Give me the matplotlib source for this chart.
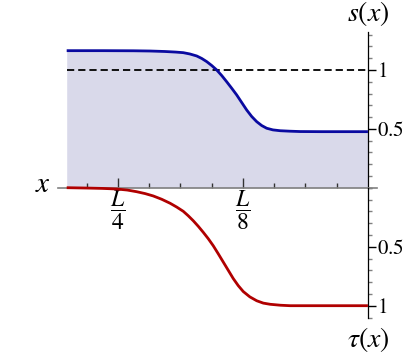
import matplotlib
matplotlib.use("Agg")
import matplotlib.pyplot as plt
from matplotlib.ticker import MultipleLocator, FixedLocator

plt.rcParams["mathtext.fontset"] = "stix"
plt.rcParams["font.family"] = ["Liberation Serif", "DejaVu Serif"]

W, H = 407, 356

# s(x) (x in tick units, ticks at integers)
s_x = [0.36, 1.5, 2.5, 3.03, 3.5, 3.85, 4.09, 4.3, 4.52, 4.68, 4.84, 5.0,
       5.16, 5.32, 5.48, 5.64, 5.80, 5.96, 6.12, 6.28, 6.44, 6.60, 6.76,
       6.96, 7.19, 7.5, 7.83, 8.5, 10.0]
s_y = [1.164, 1.164, 1.163, 1.161, 1.157, 1.152, 1.147, 1.136, 1.119, 1.098,
       1.071, 1.038, 1.0, 0.953, 0.90, 0.845, 0.788, 0.724, 0.66, 0.605,
       0.561, 0.528, 0.505, 0.491, 0.484, 0.480, 0.477, 0.476, 0.476]

# tau(x), plotted downward
t_x = [0.36, 1.0, 1.5, 1.96, 2.3, 2.60, 2.87, 3.13, 3.4, 3.67, 3.88, 4.09,
       4.25, 4.41, 4.57, 4.73, 4.89, 5.05, 5.21, 5.37, 5.53, 5.69, 5.85,
       6.01, 6.22, 6.44, 6.65, 6.87, 7.2, 7.51, 8.5, 10.0]
t_y = [0.0, 0.003, 0.006, 0.011, 0.02, 0.034, 0.05, 0.07, 0.098, 0.132,
       0.164, 0.20, 0.238, 0.28, 0.327, 0.378, 0.432, 0.492, 0.56, 0.63,
       0.70, 0.77, 0.83, 0.88, 0.925, 0.958, 0.978, 0.988, 0.996, 1.0,
       1.0, 1.0]

ref_level = 1.0
x_major = [2, 6]
x_major_labels = [r"$\dfrac{L}{4}$", r"$\dfrac{L}{8}$"]
x_minor = [1, 3, 4, 5, 7, 8, 9]
y_major = [0.5, 1]
y_major_labels = [r"$0.5$", r"$1$"]

BLUE = "#0a0aa0"
RED = "#b00000"
FILL = "#d9d9ea"
GRAY = "#808080"

fig = plt.figure(figsize=(W / 100, H / 100), dpi=100)

def px_box(left, right, top, bottom):
    return [left / W, 1 - bottom / H, (right - left) / W, (bottom - top) / H]

xlim = (0.0816, 10.29)
ax_top = fig.add_axes(px_box(58, 377, 32.3, 187.7))
ax_bot = fig.add_axes(px_box(58, 377, 187.7, 317.5))

for ax in (ax_top, ax_bot):
    ax.set_xlim(*xlim)
    ax.patch.set_alpha(0)
    ax.spines["left"].set_visible(False)
    ax.spines["right"].set_position(("data", 10))
    ax.spines["right"].set_linewidth(0.9)
    ax.yaxis.tick_right()
    ax.yaxis.set_major_locator(FixedLocator(y_major))
    ax.yaxis.set_ticklabels(y_major_labels)
    ax.yaxis.set_minor_locator(MultipleLocator(0.1))
    ax.tick_params(axis="y", which="major", direction="out", length=6,
                   width=1.0, color="black", labelsize=15, pad=0.5)
    ax.tick_params(axis="y", which="minor", direction="out", length=3,
                   width=1.0, color=GRAY)

ax_top.set_ylim(0, 1.32)
ax_top.spines["top"].set_visible(False)
ax_top.spines["bottom"].set_color(GRAY)
ax_top.spines["bottom"].set_linewidth(1.2)
ax_top.xaxis.set_major_locator(FixedLocator(x_major))
ax_top.xaxis.set_ticklabels(x_major_labels)
ax_top.xaxis.set_minor_locator(FixedLocator(x_minor))
ax_top.tick_params(axis="x", which="major", direction="in", length=7,
                   width=1.0, color="#333333", labelsize=17, pad=1)
ax_top.tick_params(axis="x", which="minor", direction="in", length=3.5,
                   width=1.0, color="#333333")

ax_bot.set_ylim(1.1, 0)
ax_bot.spines["top"].set_visible(False)
ax_bot.spines["bottom"].set_visible(False)
ax_bot.set_xticks([])

ax_top.fill_between(s_x, s_y, 0, color=FILL, lw=0, zorder=0)
ax_top.plot([s_x[0], s_x[-1]], [ref_level, ref_level], color="black",
            lw=1.3, ls=(0, (4, 2.2)), zorder=2)
ax_top.plot(s_x, s_y, color=BLUE, lw=2.0, zorder=3, solid_capstyle="butt",
            solid_joinstyle="round")
ax_bot.plot(t_x, t_y, color=RED, lw=2.0, zorder=3, solid_capstyle="butt",
            solid_joinstyle="round", clip_on=False)
ax_bot.set_zorder(3)

fig.text(368 / W, 1 - 14 / H, r"$s(x)$", fontsize=20, ha="center", va="center")
fig.text(368 / W, 1 - 339 / H, r"$\tau(x)$", fontsize=20, ha="center", va="center")
fig.text(43 / W, 1 - 185 / H, r"$x$", fontsize=21, ha="center", va="center")

fig.savefig("out.png", dpi=100)
